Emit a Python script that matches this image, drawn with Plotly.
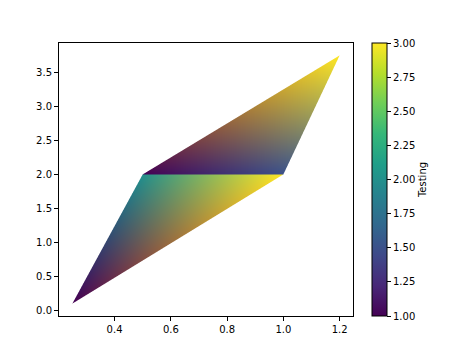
import numpy as np
import plotly.graph_objects as go
from plotly.colors import sample_colorscale, unlabel_rgb

# ---- data ----
vertex_x = [0.25, 0.5, 1.0, 1.2]
vertex_y = [0.1, 2.0, 2.0, 3.75]
triangles = [[0, 1, 2], [1, 2, 3]]
triangle_values = [[1.0, 2.0, 3.0], [1.0, 1.5, 3.0]]
color_min, color_max = 1.0, 3.0
x_ticks = [0.4, 0.6, 0.8, 1.0, 1.2]
y_ticks = [0.0, 0.5, 1.0, 1.5, 2.0, 2.5, 3.0, 3.5]
cbar_ticks = [1.0, 1.25, 1.5, 1.75, 2.0, 2.25, 2.5, 2.75, 3.0]
cbar_label = "Testing"

# ---- axis ranges with 5% margins ----
def padded(vals, m=0.05):
    lo, hi = min(vals), max(vals)
    s = hi - lo
    return lo - m * s, hi + m * s

xmin, xmax = padded(vertex_x)
ymin, ymax = padded(vertex_y)

# ---- gouraud shading (RGB interpolation of vertex colours) ----
W, H, S = 294, 273, 4
dxs = (xmax - xmin) / (W * S)
dys = (ymax - ymin) / (H * S)
gx = xmin + (np.arange(W * S) + 0.5) * dxs
gy = ymin + (np.arange(H * S) + 0.5) * dys
X, Y = np.meshgrid(gx, gy)

rgb = np.zeros((H * S, W * S, 3))
cover = np.zeros((H * S, W * S))

def vcolor(v):
    t = (v - color_min) / (color_max - color_min)
    c = sample_colorscale("Viridis", [t])[0]
    return np.array(unlabel_rgb(c), dtype=float)

for tri, vals in zip(triangles, triangle_values):
    (x1, x2, x3) = [vertex_x[i] for i in tri]
    (y1, y2, y3) = [vertex_y[i] for i in tri]
    det = (y2 - y3) * (x1 - x3) + (x3 - x2) * (y1 - y3)
    l1 = ((y2 - y3) * (X - x3) + (x3 - x2) * (Y - y3)) / det
    l2 = ((y3 - y1) * (X - x3) + (x1 - x3) * (Y - y3)) / det
    l3 = 1 - l1 - l2
    inside = (l1 >= -1e-9) & (l2 >= -1e-9) & (l3 >= -1e-9) & (cover == 0)
    c1, c2, c3 = [vcolor(v) for v in vals]
    col = l1[..., None] * c1 + l2[..., None] * c2 + l3[..., None] * c3
    rgb[inside] = col[inside]
    cover[inside] = 1.0

prem = (rgb * cover[..., None]).reshape(H, S, W, S, 3).mean(axis=(1, 3))
alpha = cover.reshape(H, S, W, S).mean(axis=(1, 3))
safe = np.where(alpha > 0, alpha, 1)
col = np.clip(prem / safe[..., None], 0, 255)
z = np.concatenate([col, alpha[..., None]], axis=2)

fig = go.Figure()
fig.add_trace(go.Image(
    z=z, colormodel="rgba",
    x0=xmin + dxs * S / 2, dx=dxs * S,
    y0=ymin + dys * S / 2, dy=dys * S,
    hoverinfo="skip",
))

fig.add_trace(go.Scatter(
    x=[None], y=[None], mode="markers", showlegend=False,
    marker=dict(
        color=[color_min], colorscale="Viridis", cmin=color_min, cmax=color_max,
        showscale=True,
        colorbar=dict(
            x=(372 - 59) / 294, xanchor="left", xpad=0,
            y=0.5, yanchor="middle", len=1, lenmode="fraction", ypad=0,
            thickness=15, outlinewidth=1, outlinecolor="black",
            tickvals=cbar_ticks, ticktext=[f"{v:.2f}" for v in cbar_ticks],
            ticks="outside", ticklen=4, tickwidth=1, tickcolor="black",
            tickfont=dict(size=10, color="black", family="DejaVu Sans"),
            title=dict(text=cbar_label, side="right",
                       font=dict(size=10, color="black", family="DejaVu Sans")),
        ),
    ),
))

axis_common = dict(
    showline=True, mirror=True, linecolor="black", linewidth=1,
    ticks="outside", ticklen=4, tickwidth=1, tickcolor="black",
    showgrid=False, zeroline=False,
    tickfont=dict(size=10, color="black", family="DejaVu Sans"),
)
fig.update_xaxes(range=[xmin, xmax], autorange=False, tickvals=x_ticks,
                 ticktext=[f"{v:.1f}" for v in x_ticks], **axis_common)
fig.update_yaxes(range=[ymin, ymax], autorange=False, tickvals=y_ticks,
                 ticktext=[f"{v:.1f}" for v in y_ticks], scaleanchor=False,
                 **axis_common)

fig.update_layout(
    width=474, height=355,
    margin=dict(l=59, r=121, t=43, b=39),
    plot_bgcolor="white", paper_bgcolor="white",
    font=dict(family="DejaVu Sans", size=10, color="black"),
    showlegend=False,
)

fig.write_html("out.html")
